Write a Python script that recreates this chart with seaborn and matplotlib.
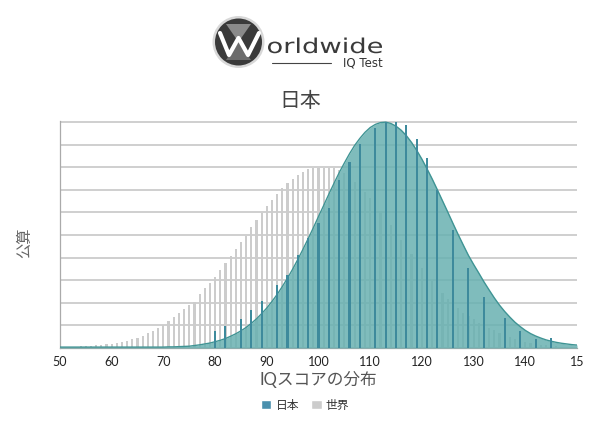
import numpy as np
import pandas as pd
import matplotlib
matplotlib.use("Agg")
import matplotlib.pyplot as plt
import seaborn as sns
from matplotlib.patches import Patch, Circle, Polygon, PathPatch
from matplotlib.textpath import TextPath
from matplotlib.font_manager import FontProperties
from matplotlib.transforms import Affine2D

# IQ scores on the x axis, one step per point
iq_scores = list(range(50, 151))

# world distribution (grey bars), 50..150
world_share = [
    0.03, 0.04, 0.05, 0.06, 0.07, 0.08, 0.10, 0.12, 0.14, 0.16,
    0.19, 0.22, 0.27, 0.33, 0.38, 0.46, 0.55, 0.65, 0.75, 0.87,
    1.00, 1.19, 1.36, 1.53, 1.71, 1.90, 2.05, 2.37, 2.64, 2.89,
    3.16, 3.45, 3.75, 4.08, 4.38, 4.70, 4.97, 5.34, 5.65, 5.99,
    6.28, 6.55, 6.81, 7.07, 7.29, 7.48, 7.65, 7.77, 7.91, 7.98,
    7.98, 7.98, 7.98, 7.98, 7.90, 7.73, 7.55, 7.36, 7.15, 6.92,
    6.65, 6.35, 6.05, 5.72, 5.44, 5.10, 4.80, 4.48, 4.15, 3.85,
    3.55, 3.25, 2.95, 2.70, 2.42, 2.15, 1.95, 1.76, 1.55, 1.40,
    1.28, 1.12, 1.00, 0.90, 0.78, 0.68, 0.58, 0.48, 0.40, 0.33,
    0.27, 0.22, 0.18, 0.15, 0.12, 0.10, 0.08, 0.06, 0.05, 0.04,
    0.03,
]

# Japan density curve (teal area), 50..150
japan_curve = [
    0.04, 0.04, 0.04, 0.04, 0.04, 0.04, 0.04, 0.04, 0.04, 0.04,
    0.04, 0.04, 0.04, 0.04, 0.04, 0.04, 0.04, 0.04, 0.04, 0.04,
    0.04, 0.05, 0.05, 0.06, 0.07, 0.08, 0.11, 0.14, 0.18, 0.22,
    0.28, 0.34, 0.42, 0.52, 0.63, 0.76, 0.91, 1.09, 1.29, 1.52,
    1.77, 2.06, 2.37, 2.72, 3.09, 3.49, 3.92, 4.37, 4.84, 5.32,
    5.82, 6.31, 6.81, 7.29, 7.76, 8.19, 8.60, 8.97, 9.28, 9.55,
    9.76, 9.90, 9.98, 10.0, 9.94, 9.82, 9.64, 9.40, 9.10, 8.75,
    8.36, 7.93, 7.48, 7.00, 6.51, 6.02, 5.52, 5.03, 4.56, 4.10,
    3.70, 3.32, 2.93, 2.57, 2.22, 1.90, 1.62, 1.37, 1.14, 0.95,
    0.78, 0.64, 0.53, 0.44, 0.36, 0.30, 0.25, 0.21, 0.18, 0.15,
    0.13,
]

# Japan sample bars (dark teal)
japan_iq = [80, 82, 85, 87, 89, 92, 94, 96, 98, 100, 102, 104, 106, 108,
            111, 113, 115, 117, 119, 121, 123, 126, 129, 132, 136, 139, 142, 145]
japan_share = [0.75, 0.97, 1.27, 1.68, 2.09, 2.79, 3.24, 4.12, 4.85, 5.52,
               6.21, 7.43, 8.24, 9.01, 9.72, 10.0, 9.99, 9.87, 9.25, 8.42,
               7.00, 5.22, 3.53, 2.27, 1.31, 0.77, 0.38, 0.43]

x_ticks = [50, 60, 70, 80, 90, 100, 110, 120, 130, 140, 150]
x_tick_labels = ["50", "60", "70", "80", "90", "100", "110", "120", "130", "140", "15"]

sns.set_theme(style="white")
plt.rcParams["font.family"] = ["Lato", "Noto Sans CJK JP", "DejaVu Sans"]

fig = plt.figure(figsize=(6, 4.38), dpi=100)
ax = fig.add_axes([60 / 600, 1 - 348 / 438, 517 / 600, 227 / 438])

world_df = pd.DataFrame({"iq": iq_scores, "share": world_share})
japan_df = pd.DataFrame({"iq": japan_iq, "share": japan_share})

sns.barplot(data=world_df, x="iq", y="share", native_scale=True, width=0.42,
            color="#cccccc", saturation=1, errorbar=None, ax=ax, zorder=2,
            linewidth=0, edgecolor="none")
ax.fill_between(iq_scores, japan_curve, color="#66b0b0", alpha=0.84, lw=0, zorder=3)
sns.lineplot(x=iq_scores, y=japan_curve, color="#3f9494", lw=1.0, ax=ax, zorder=4)
sns.barplot(data=japan_df, x="iq", y="share", native_scale=True, width=0.2,
            color="#3e8a9c", saturation=1, errorbar=None, ax=ax, zorder=5,
            linewidth=0, edgecolor="none")

ax.set_xlim(50, 150)
ax.set_ylim(0, 10.05)
ax.set_yticks(range(0, 11))
ax.set_yticklabels([])
ax.set_xticks(x_ticks)
ax.set_xticklabels(x_tick_labels, fontsize=9, color="#222222")
ax.set_xlabel("")
ax.set_ylabel("")
ax.set_axisbelow(True)
ax.yaxis.grid(True, color="#c2c2c2", lw=1.1)
ax.tick_params(axis="both", length=3, width=0.8, color="#aaaaaa", pad=3)
ax.tick_params(axis="y", direction="out")
for side in ["top", "right"]:
    ax.spines[side].set_visible(False)
for side in ["left", "bottom"]:
    ax.spines[side].set_color("#aaaaaa")
    ax.spines[side].set_linewidth(0.9)

fig.text(0.5, 1 - 101 / 438, "日本", ha="center", va="center", fontsize=15, color="#444444")
fig.text(25 / 600, 1 - 243 / 438, "公算", ha="center", va="center", rotation=90,
         fontsize=11, color="#666666")
fig.text(318 / 600, 1 - 379 / 438, "IQスコアの分布", ha="center", va="center",
         fontsize=12, color="#555555")

handles = [Patch(facecolor="#4a90ad", label="日本"), Patch(facecolor="#cccccc", label="世界")]
fig.legend(handles=handles, loc="center", bbox_to_anchor=(305 / 600, 1 - 405 / 438), ncol=2,
           frameon=False, fontsize=8.5, handlelength=0.9, handleheight=0.9,
           handletextpad=0.35, columnspacing=1.0, labelcolor="#333333")

# logo drawn in pixel coordinates
lax = fig.add_axes([0, 0, 1, 1])
lax.set_xlim(0, 600)
lax.set_ylim(438, 0)
lax.axis("off")
lax.add_patch(Circle((238.5, 42), 26, fc="#d8d8d8", ec="none"))
lax.add_patch(Circle((238.5, 42), 23.5, fc="#3a3a3a", ec="none"))
lax.add_patch(Polygon([(226, 24), (251, 24), (238.5, 42)], fc="#8a8a8a", ec="none"))
lax.add_patch(Polygon([(238.5, 42), (226, 60), (251, 60)], fc="#6c6c6c", ec="none"))
lax.plot([220, 229, 238.5, 248, 259], [33, 55, 38, 55, 33], color="white", lw=3,
         solid_joinstyle="round", solid_capstyle="round")

tp = TextPath((0, 0), "orldwide", size=1, prop=FontProperties(family="DejaVu Sans"))
ext = tp.get_extents()
sx = 114 / ext.width
sy = 15.5 / ext.y1
logo_path = Affine2D().translate(-ext.x0, 0).scale(sx, -sy).translate(268, 53).transform_path(tp)
lax.add_patch(PathPatch(logo_path, fc="#3a3a3a", ec="none"))
lax.plot([272, 331], [63, 63], color="#444444", lw=0.8)
lax.text(383, 63.5, "IQ Test", ha="right", va="center", fontsize=8.5, color="#333333",
         family="DejaVu Sans")

fig.savefig("out.png", dpi=100)
